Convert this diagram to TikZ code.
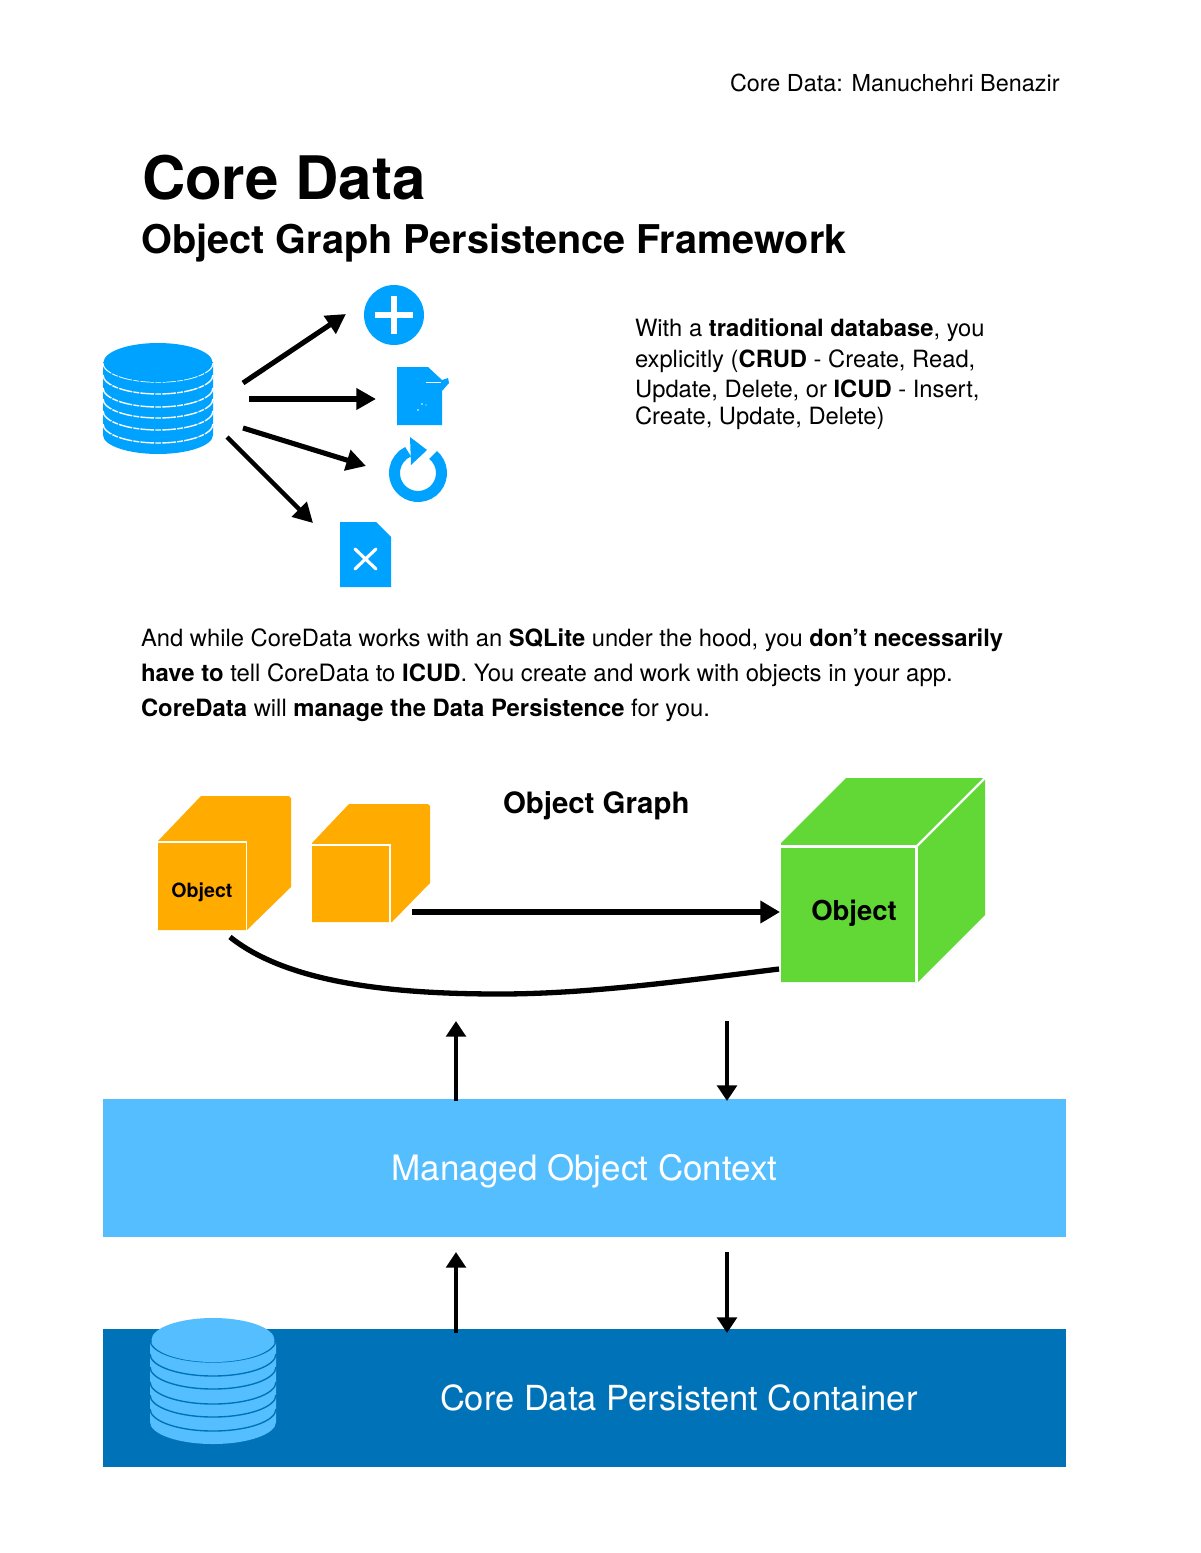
\documentclass[tikz,border=0pt]{standalone}
\usepackage{fontspec}
\setmainfont{TeX Gyre Heros}
\usetikzlibrary{arrows.meta}
\definecolor{iconblue}{HTML}{00A2FF}
\definecolor{lightblue}{HTML}{54BEFF}
\definecolor{darkblue}{HTML}{0073B8}
\definecolor{boxorange}{HTML}{FFAB00}
\definecolor{boxgreen}{HTML}{61D836}
\newcommand{\bodysize}{\fontsize{12.12}{14}\selectfont}
\tikzset{
  x=0.51pt,y=-0.51pt,
  txt/.style={anchor=base west,inner sep=0pt,outer sep=0pt},
  bigtip/.style={-{Triangle[length=10pt,width=10.5pt]},line width=2.6pt},
  smalltip/.style={-{Triangle[length=8pt,width=10pt]},line width=2.5pt},
  band/.style={anchor=north west,inner sep=0pt,outer sep=0pt,minimum width=491.13pt,minimum height=70.4pt},
  wline/.style={draw=white,line width=0.9pt},
}
\begin{document}
\begin{tikzpicture}
\useasboundingbox (0,0) rectangle (1200,1553);
% header and titles
\node[txt] (hdr) at (730,92) {\fontsize{11.93}{14}\selectfont Core Data: Manuchehri Benazir};
\node[txt] (title) at (142,200) {\fontsize{30.6}{34}\selectfont\bfseries Core Data};
\node[txt] (sub) at (141.5,253.5) {\fontsize{20.2}{24}\selectfont\bfseries Object Graph Persistence Framework};
% right text
\node[txt] (r1) at (635,336) {\bodysize With a {\bfseries traditional database}, you};
\node[txt] (r2) at (635,367) {\bodysize explicitly ({\bfseries CRUD} - Create, Read,};
\node[txt] (r3) at (635,397) {\bodysize Update, Delete, or {\bfseries ICUD} - Insert,};
\node[txt] (r4) at (635,424) {\bodysize Create, Update, Delete)};
% paragraph
\node[txt] (p1) at (141,646) {\bodysize And while CoreData works with an {\bfseries SQLite} under the hood, you {\bfseries don’t necessarily}};
\node[txt] (p2) at (141,681) {\fontsize{12.19}{14}\selectfont {\bfseries have to} tell CoreData to {\bfseries ICUD}. You create and work with objects in your app.};
\node[txt] (p3) at (141,716) {\fontsize{12.15}{14}\selectfont {\bfseries CoreData} will {\bfseries manage the Data Persistence} for you.};
% top database
\fill[iconblue] (103,362) -- (103,435) arc[start angle=180,end angle=0,x radius=55,y radius=19] -- (213,362) -- cycle;
\foreach \yy in {363,375,388,399,411,424} {
  \draw[white,line width=0.7pt,dash pattern=on 7pt off 0.6pt on 3pt off 0.6pt] (103,\yy) arc[start angle=180,end angle=0,x radius=55,y radius=19];
}
\fill[iconblue] (158,362.5) ellipse[x radius=54.5,y radius=19.5];
% icons
\coordinate (plusc) at (394,315);
\fill[iconblue] (plusc) circle[radius=30];
\fill[white] (391,296) rectangle (397,334);
\fill[white] (375,312) rectangle (413,318);
\fill[iconblue] (397,367) -- (428,367) -- (442,380) -- (448,378) -- (449,383) -- (442,391) -- (442,425) -- (397,425) -- cycle;
\fill[white] (426,381.5) rectangle (441,383);
\fill[white] (422,404) circle[radius=0.8] (418,410) circle[radius=0.8] (426,405) circle[radius=0.6];
\draw[iconblue,line width=5.6pt] (433.1,455) arc[start angle=-50,end angle=245,radius=23.5];
\fill[iconblue] (410,437) -- (427,450) -- (411,465) -- cycle;
\fill[iconblue] (340,522) -- (376,522) -- (391,537) -- (391,587) -- (340,587) -- cycle;
\draw[white,line width=1.6pt,line cap=round] (355,549) -- (376,569) (376,549) -- (355,569);
% named end points for the four arrows
\coordinate (d1) at (243,383); \coordinate (i1) at (346,314);
\coordinate (d2) at (249,399); \coordinate (i2) at (376,399);
\coordinate (d3) at (243,428); \coordinate (i3) at (366,466);
\coordinate (d4) at (227,437); \coordinate (i4) at (313,523);
\draw[bigtip] (d1) -- (i1);
\draw[bigtip] (d2) -- (i2);
\draw[bigtip] (d3) -- (i3);
\draw[bigtip,line width=2.2pt] (d4) -- (i4);
% heading
\node[txt] (og) at (503,813) {\fontsize{15}{18}\selectfont\bfseries Object Graph};
% orange cube 1
\fill[boxorange] (158,841) -- (201,796) -- (289,796) -- (291,798) -- (291,887) -- (247,930) -- (158,930) -- cycle;
\draw[wline] (158,842) -- (246.5,842) -- (246.5,930);
\node[anchor=base,inner sep=0pt] (obj1) at (202,897) {\fontsize{10}{12}\selectfont\bfseries Object};
% orange cube 2
\fill[boxorange] (312,843) -- (349,804) -- (428,804) -- (430,806) -- (430,883) -- (392,922) -- (312,922) -- cycle;
\draw[wline] (312,845) -- (390,845) -- (390,922);
\coordinate (c2out) at (412,912);
% green cube
\fill[boxgreen] (781,843) -- (846,778) -- (982,778) -- (985,780) -- (985,915) -- (918,982) -- (781,982) -- cycle;
\draw[white,line width=1.2pt] (781,846.5) -- (916.5,846.5) -- (916.5,982);
\draw[white,line width=1.2pt] (916.5,846.5) -- (984,779);
\node[anchor=base,inner sep=0pt] (obj2) at (854,920) {\fontsize{14}{16}\selectfont\bfseries Object};
\coordinate (gin) at (780,912);
\coordinate (gcurve) at (779,969);
\coordinate (c1out) at (230,937);
\draw[-{Triangle[length=10pt,width=11pt]},line width=2.7pt] (c2out) -- (gin);
\draw[line width=2.7pt] (c1out) .. controls (290,985) and (400,994) .. (500,994) .. controls (590,994) and (690,980) .. (gcurve);
% bands
\node[band,fill=lightblue] (moc) at (103,1099) {};
\node[anchor=base,inner sep=0pt,text=white] (moct) at (584.5,1180) {\fontsize{17.85}{20}\selectfont Managed Object Context};
\node[band,fill=darkblue] (pc) at (103,1329) {};
\node[txt,text=white] (pct) at (440,1410) {\fontsize{17.6}{20}\selectfont Core Data Persistent Container};
% vertical arrows
\coordinate (u1a) at (456,1101); \coordinate (u1b) at (456,1021);
\coordinate (d1a) at (727,1021); \coordinate (d1b) at (727,1101);
\coordinate (u2a) at (456,1333); \coordinate (u2b) at (456,1252);
\coordinate (d2a) at (727,1252); \coordinate (d2b) at (727,1333);
\draw[smalltip] (u1a) -- (u1b);
\draw[smalltip] (d1a) -- (d1b);
\draw[smalltip] (u2a) -- (u2b);
\draw[smalltip] (d2a) -- (d2b);
% bottom database
\fill[lightblue] (150,1342) -- (150,1422) arc[start angle=180,end angle=0,x radius=63,y radius=22] -- (276,1342) -- cycle;
\foreach \yy in {1354,1367,1382,1395,1409} {
  \draw[darkblue,line width=0.7pt] (150,\yy) arc[start angle=180,end angle=0,x radius=63,y radius=22];
}
\draw[darkblue,line width=0.7pt] (150,1340) arc[start angle=180,end angle=0,x radius=63,y radius=22];
\fill[lightblue] (213,1340) ellipse[x radius=61.5,y radius=22];
\end{tikzpicture}
\end{document}
